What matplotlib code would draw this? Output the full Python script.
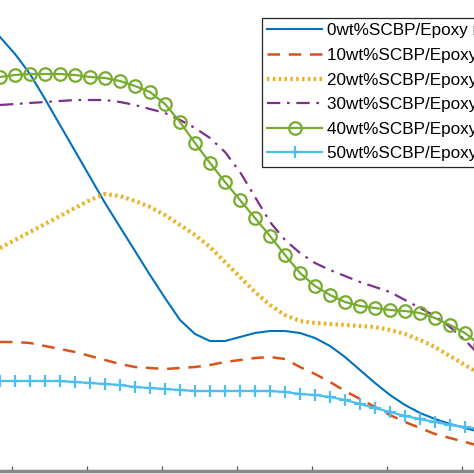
import numpy as np
import matplotlib
matplotlib.use("Agg")
import matplotlib.pyplot as plt

# sample index (one sample every 15 px of the original plot)
x = np.arange(33)

y0 = [43.4, 41.7, 39.7, 37.2, 34.6, 32.0, 29.4, 26.8, 24.4, 22.0, 19.6, 17.3, 15.1, 13.7, 13.0, 13.0, 13.4,
      13.8, 14.0, 14.0, 13.8, 13.3, 12.5, 11.4, 10.1, 8.8, 7.6, 6.6, 5.8, 5.2, 4.7, 4.3, 3.9]
y10 = [12.9, 12.9, 12.8, 12.5, 12.2, 11.9, 11.5, 11.1, 10.7, 10.4, 10.3, 10.2, 10.3, 10.4, 10.6, 10.9, 11.1,
       11.3, 11.4, 11.2, 10.4, 9.7, 8.9, 8.0, 7.2, 6.4, 5.6, 4.9, 4.3, 3.7, 3.3, 2.9, 2.5]
y20 = [22.3, 23.1, 23.9, 24.7, 25.5, 26.3, 27.1, 27.7, 27.5, 27.0, 26.4, 25.6, 24.6, 23.6, 22.4, 20.9, 19.4,
       17.9, 16.6, 15.6, 15.0, 14.8, 14.7, 14.6, 14.5, 14.4, 14.1, 13.7, 13.1, 12.4, 11.5, 10.6, 9.7]
y30 = [36.6, 36.7, 36.8, 36.9, 37.0, 37.1, 37.1, 37.1, 36.9, 36.6, 36.2, 35.8, 35.1, 34.3, 33.3, 31.9, 29.9,
       27.4, 24.9, 23.1, 21.8, 20.8, 20.1, 19.5, 18.9, 18.4, 17.9, 17.1, 16.3, 15.5, 14.4, 13.1, 11.5]
y40 = [39.4, 39.6, 39.7, 39.7, 39.7, 39.6, 39.4, 39.3, 39.0, 38.5, 37.9, 36.7, 34.9, 32.8, 30.8, 28.9, 27.1,
       25.3, 23.5, 21.6, 19.8, 18.5, 17.6, 16.9, 16.5, 16.3, 16.1, 16.0, 15.8, 15.3, 14.6, 13.8, 12.6]
y50 = [9.0, 9.0, 9.0, 9.0, 9.0, 8.9, 8.8, 8.7, 8.6, 8.4, 8.3, 8.2, 8.1, 8.0, 8.0, 8.0, 8.0,
       8.0, 8.0, 7.9, 7.7, 7.6, 7.4, 7.1, 6.7, 6.3, 5.9, 5.5, 5.2, 4.9, 4.6, 4.4, 4.2]

labels = ["0wt%SCBP/Epoxy matrix", "10wt%SCBP/Epoxy composite", "20wt%SCBP/Epoxy composite",
          "30wt%SCBP/Epoxy composite", "40wt%SCBP/Epoxy composite", "50wt%SCBP/Epoxy composite"]

plt.rcParams["font.family"] = ["Liberation Sans", "DejaVu Sans"]

fig = plt.figure(figsize=(4.74, 4.74), dpi=100)
ax = fig.add_axes([0, 3/474, 1, 471/474])

ax.plot(x, y0, color="#0072BD", lw=1.5, label=labels[0])
ax.plot(x, y10, color="#D95319", lw=1.8, ls=(0, (5, 3.5)), label=labels[1])
ax.plot(x, y20, color="#EDB120", lw=3.0, ls=(0, (0.6, 0.8)), label=labels[2])
ax.plot(x, y30, color="#7E2F8E", lw=1.6, ls=(0, (6, 3, 1.2, 3)), label=labels[3])
ax.plot(x, y40, color="#77AC30", lw=1.6, marker="o", ms=9, mfc="none", mew=1.6, label=labels[4])
ax.plot(x, y50, color="#4DBEEE", lw=1.6, marker="+", ms=8, mew=1.6, label=labels[5])

ax.set_xlim(0, 31.6)
ax.set_ylim(0, 47.1)
ax.set_xticks(np.arange(0.8, 32, 5))
ax.set_yticks([])
ax.tick_params(axis="x", direction="in", length=3.5, width=0.9, color="#555555", labelbottom=False)
for s in ("top", "left", "right"):
    ax.spines[s].set_visible(False)
ax.spines["bottom"].set_color("#888888")
ax.spines["bottom"].set_linewidth(2.5)

leg = fig.legend(loc="upper left", bbox_to_anchor=(262/474, 1 - 18/474), borderaxespad=0,
                 fontsize=12.3, handlelength=3.2, handletextpad=0.3, borderpad=0.32,
                 labelspacing=0.56, fancybox=False, framealpha=1, edgecolor="#262626", numpoints=1)
leg.get_frame().set_linewidth(0.9)

fig.savefig("out.png", dpi=100)
